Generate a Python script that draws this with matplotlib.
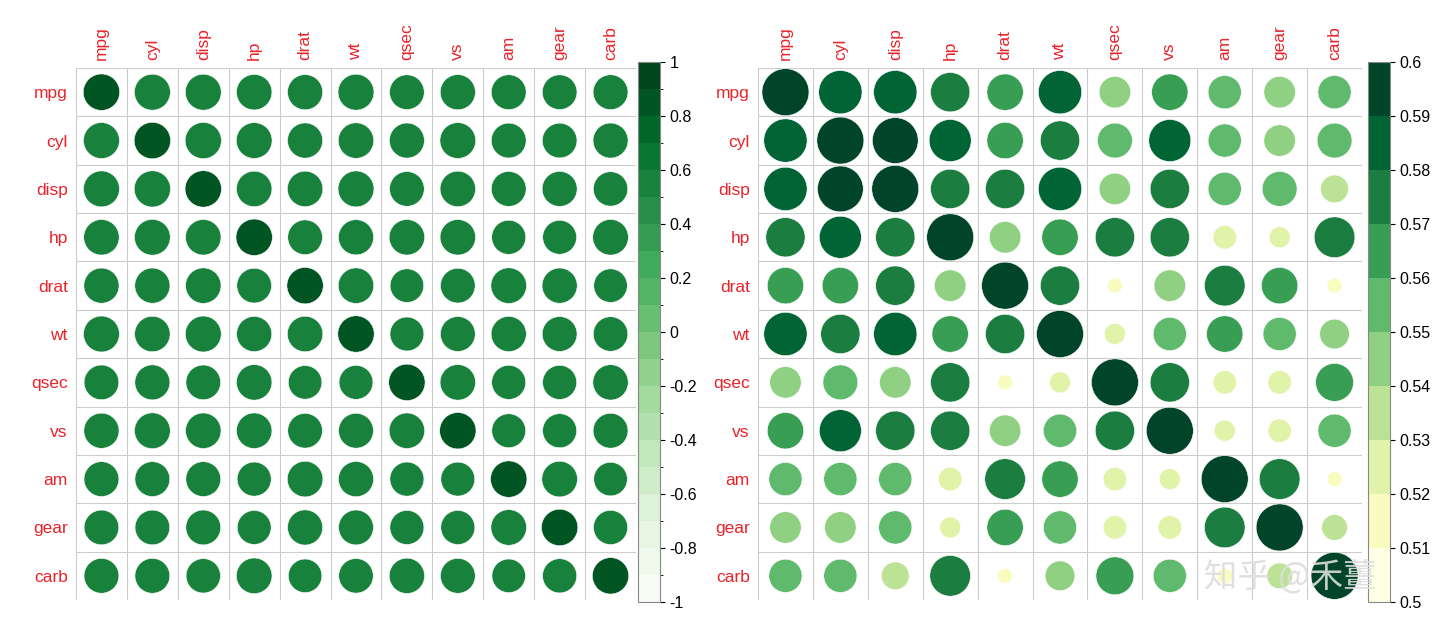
import numpy as np
import matplotlib.pyplot as plt
from matplotlib.colors import BoundaryNorm
from matplotlib import cm

plt.rcParams['font.family'] = ['Liberation Sans', 'Noto Sans CJK SC', 'DejaVu Sans']
plt.rcParams['axes.unicode_minus'] = False

labels = ['mpg', 'cyl', 'disp', 'hp', 'drat', 'wt', 'qsec', 'vs', 'am', 'gear', 'carb']

# matrix values (range 0.5 - 0.6)
mpg  = [0.600, 0.585, 0.585, 0.570, 0.560, 0.585, 0.545, 0.560, 0.550, 0.545, 0.550]
cyl  = [0.585, 0.600, 0.595, 0.580, 0.560, 0.570, 0.555, 0.580, 0.550, 0.545, 0.555]
disp = [0.585, 0.595, 0.600, 0.570, 0.570, 0.585, 0.545, 0.570, 0.550, 0.555, 0.535]
hp   = [0.570, 0.580, 0.570, 0.600, 0.545, 0.560, 0.570, 0.570, 0.525, 0.520, 0.575]
drat = [0.560, 0.560, 0.570, 0.545, 0.600, 0.570, 0.510, 0.545, 0.575, 0.560, 0.510]
wt   = [0.585, 0.570, 0.585, 0.560, 0.570, 0.600, 0.520, 0.550, 0.560, 0.550, 0.540]
qsec = [0.545, 0.555, 0.545, 0.570, 0.510, 0.520, 0.600, 0.570, 0.525, 0.525, 0.565]
vs   = [0.560, 0.580, 0.570, 0.570, 0.545, 0.550, 0.570, 0.600, 0.520, 0.525, 0.550]
am   = [0.550, 0.550, 0.550, 0.525, 0.575, 0.560, 0.525, 0.520, 0.600, 0.575, 0.510]
gear = [0.545, 0.545, 0.550, 0.520, 0.560, 0.550, 0.525, 0.525, 0.575, 0.600, 0.530]
carb = [0.550, 0.550, 0.535, 0.575, 0.510, 0.540, 0.565, 0.550, 0.510, 0.530, 0.600]
M = np.array([mpg, cyl, disp, hp, drat, wt, qsec, vs, am, gear, carb])

n = len(labels)
W, H = 1440, 637
fig = plt.figure(figsize=(W / 100, H / 100), dpi=100)

def panel(rect, crect, cmap, bounds, ticks, ticklabels, sizes, colours):
    ax = fig.add_axes(rect)
    xs, ys = np.meshgrid(np.arange(n), np.arange(n))
    ax.scatter(xs.ravel(), ys.ravel(), s=sizes.ravel(), c=colours,
               edgecolors='white', linewidths=0.4, zorder=3)
    for k in range(n + 1):
        ax.axhline(k - 0.5, color='#cccccc', lw=0.8, zorder=1)
        ax.axvline(k - 0.5, color='#cccccc', lw=0.8, zorder=1)
    ax.set_xlim(-0.5, n - 0.5)
    ax.set_ylim(n - 0.5, -0.5)
    ax.set_xticks(range(n))
    ax.set_yticks(range(n))
    ax.set_xticklabels(labels, rotation=90, color='#e8232a', fontsize=12.5)
    ax.set_yticklabels(labels, color='#e8232a', fontsize=12.5)
    ax.xaxis.tick_top()
    ax.tick_params(length=0, pad=6)
    for s in ax.spines.values():
        s.set_visible(False)
    cax = fig.add_axes(crect)
    norm = BoundaryNorm(bounds, cmap.N)
    cb = fig.colorbar(cm.ScalarMappable(norm=norm, cmap=cmap), cax=cax, ticks=ticks)
    cb.ax.set_yticklabels(ticklabels)
    cb.outline.set_edgecolor('#888888')
    cb.ax.tick_params(labelsize=11.5)
    return ax

# left: colour scale -1..1
lcmap = plt.get_cmap('Greens', 20)
lb = np.linspace(-1, 1, 21)
lnorm = BoundaryNorm(lb, lcmap.N)
lcol = lcmap(lnorm(M.ravel()))
diag = np.eye(n, dtype=bool).ravel()
lcol[diag] = lcmap(lnorm(np.full(diag.sum(), 0.85)))
lsizes = (47 * np.sqrt(M) * 0.72) ** 2
lt = np.round(np.linspace(-1, 1, 11), 1)
panel([76 / W, 1 - 600 / H, 560 / W, 532 / H], [638 / W, 1 - 602 / H, 22 / W, 540 / H],
      lcmap, lb, lt, ['%g' % t for t in lt], lsizes, lcol)

# right: colour scale 0.5..0.6
rcmap = plt.get_cmap('YlGn', 10)
rb = np.linspace(0.5, 0.6, 11)
rcol = rcmap(BoundaryNorm(rb, rcmap.N)(M.ravel()))
rsizes = (47 * np.sqrt((M - 0.5) / 0.1) * 0.72) ** 2
rt = np.round(rb, 2)
panel([758 / W, 1 - 600 / H, 604 / W, 532 / H], [1368 / W, 1 - 602 / H, 22 / W, 540 / H],
      rcmap, rb, rt, ['%g' % t for t in rt], rsizes, rcol)

fig.text(1290 / W, 1 - 577 / H, '知乎 @禾薑', fontsize=24, color='#dddddd', alpha=0.9,
         ha='center', va='center', family=['Noto Sans CJK SC', 'DejaVu Sans'], zorder=10)

fig.savefig('out.png', dpi=100, facecolor='white')
